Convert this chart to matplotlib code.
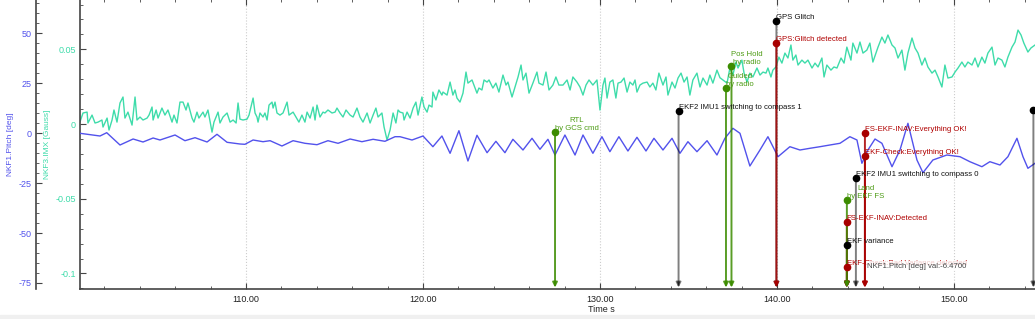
import matplotlib.pyplot as plt
from matplotlib.ticker import MultipleLocator, FormatStrFormatter, FuncFormatter
from matplotlib.patches import Rectangle

plt.rcParams['font.family'] = ['Liberation Sans', 'DejaVu Sans']

# NKF1.Pitch [deg]
pitch_t = [100.62, 101.75, 102.13, 102.88, 103.62, 104.18, 104.75, 105.14, 105.99, 106.55,
           107.12, 107.80, 108.36, 108.93, 109.66, 109.94, 110.40, 110.96, 111.36, 112.03,
           112.66, 113.33, 114.01, 114.63, 115.20, 115.88, 116.55, 117.18, 117.85, 118.42,
           118.70, 119.38, 120.00, 120.56, 121.07, 121.53, 122.03, 122.54, 123.05, 123.62,
           124.12, 124.63, 125.08, 125.65, 126.16, 126.61, 127.06, 127.46, 128.02, 128.59,
           129.04, 129.60, 130.11, 130.56, 131.07, 131.58, 132.09, 132.60, 133.05, 133.56,
           134.07, 134.52, 134.97, 135.48, 136.05, 136.61, 137.06, 137.51, 137.91, 138.47,
           139.04, 139.49, 140.06, 140.73, 141.30, 141.86, 142.43, 142.99, 143.56, 144.12,
           144.52, 144.80, 145.14, 145.54, 145.93, 146.50, 146.95, 147.40, 147.91, 148.25,
           148.81, 149.60, 150.34, 150.90, 151.58, 152.03, 152.60, 153.05, 153.56, 153.90,
           154.18, 154.58]
pitch_v = [-0.15, -1.5, 0.15, -6.0, -3.0, -4.5, -2.5, -3.5, -1.0, -3.85,
           -2.35, -4.5, -0.65, -4.65, -5.5, -5.65, -3.5, -4.35, -3.85, -6.5,
           -3.85, -5.15, -5.85, -3.85, -5.15, -3.0, -4.35, -3.15, -4.15, -1.85,
           -1.85, -3.5, -1.5, -6.85, -1.5, -10.15, 1.15, -14.0, -1.15, -9.85,
           -4.15, -9.85, -3.15, -8.5, -2.65, -8.15, -3.15, -11.0, -1.0, -11.0,
           -1.0, -10.15, -1.85, -9.35, -1.85, -9.0, -2.15, -9.0, -2.65, -8.5,
           -2.65, -10.15, -4.35, -9.35, -3.85, -11.0, -2.65, 2.35, -0.15, -16.5,
           -8.5, -1.85, -11.85, -6.85, -8.5, -7.65, -6.85, -6.0, -5.15, -1.85,
           -3.5, -15.15, -8.5, -3.0, -5.15, -16.85, -8.5, 4.85, -13.5, -19.85,
           -13.5, -11.0, -11.85, -14.35, -16.85, -14.35, -16.0, -11.85, -2.65, -11.85,
           -17.65, -15.15]

# NKF3.IMX [Gauss]
imx_t = [100.62, 100.79, 101.02, 101.07, 101.30, 101.47, 101.64, 101.86, 101.92, 102.15,
         102.26, 102.43, 102.54, 102.71, 102.88, 103.05, 103.16, 103.33, 103.56, 103.73,
         103.84, 104.01, 104.18, 104.41, 104.52, 104.69, 104.75, 104.92, 105.03, 105.25,
         105.42, 105.59, 105.82, 105.93, 106.10, 106.27, 106.44, 106.61, 106.72, 106.95,
         107.06, 107.23, 107.34, 107.57, 107.68, 107.85, 108.08, 108.19, 108.42, 108.53,
         108.70, 108.93, 109.10, 109.27, 109.44, 109.55, 109.66,
         109.83, 110.06, 110.17, 110.40, 110.51, 110.62, 110.68, 110.79, 110.96, 111.07,
         111.19, 111.30, 111.47, 111.53, 111.64, 111.75, 111.92, 112.09, 112.32, 112.43,
         112.66, 112.82, 112.99, 113.16, 113.33, 113.45, 113.62, 113.79, 113.90, 114.01,
         114.18, 114.35, 114.46, 114.63, 114.86, 115.03, 115.14, 115.31, 115.48, 115.65,
         115.88, 116.05, 116.27, 116.44, 116.61, 116.84, 117.01, 117.18, 117.34, 117.46,
         117.68, 117.80, 117.97, 118.14, 118.31, 118.47, 118.59, 118.70,
         118.87, 118.93, 119.10, 119.27, 119.44, 119.60, 119.72, 119.94, 120.06, 120.23,
         120.34, 120.51, 120.56, 120.73, 120.90, 121.07, 121.13, 121.36, 121.53, 121.69,
         121.81, 121.92, 122.09, 122.26, 122.43, 122.54, 122.77, 122.88, 123.05, 123.16,
         123.33, 123.45, 123.62, 123.73, 123.95, 124.12, 124.29, 124.52, 124.69, 124.80,
         125.03, 125.20, 125.37, 125.54, 125.65, 125.82, 125.99, 126.21, 126.44, 126.55,
         126.78, 126.95, 127.12, 127.34, 127.51, 127.68,
         127.91, 128.14, 128.31, 128.47, 128.70, 128.87, 129.04, 129.21, 129.38, 129.60,
         129.83, 130.00, 130.17, 130.28, 130.40, 130.56, 130.73, 130.90, 131.02, 131.19,
         131.36, 131.53, 131.69, 131.86, 131.98, 132.09, 132.26, 132.43, 132.66, 132.82,
         132.99, 133.16, 133.33, 133.56, 133.73, 133.84, 134.07, 134.24, 134.41, 134.58,
         134.75, 134.92, 135.08, 135.25, 135.48, 135.65, 135.82, 136.05, 136.21, 136.38,
         136.61, 136.78,
         136.95, 137.18, 137.34, 137.51, 137.68, 137.80, 138.02, 138.14, 138.31, 138.47,
         138.64, 138.87, 139.04, 139.21, 139.38, 139.49, 139.66, 139.77, 139.94, 140.11,
         140.28, 140.45, 140.62, 140.79, 140.90, 141.07, 141.19, 141.41, 141.58, 141.75,
         141.98, 142.15, 142.32, 142.54, 142.66, 142.82, 143.05, 143.22, 143.39, 143.62,
         143.79, 143.95, 144.18, 144.29, 144.52, 144.69, 144.86, 145.08, 145.25, 145.42,
         145.65,
         145.71, 145.93, 146.10, 146.27, 146.50, 146.67, 146.84, 147.06, 147.23, 147.40,
         147.63, 147.80, 147.97, 148.19, 148.36, 148.53, 148.76, 148.93, 149.10, 149.32,
         149.49, 149.66, 149.89, 150.06, 150.23, 150.45, 150.62, 150.79, 151.02, 151.19,
         151.36, 151.58, 151.75, 151.92, 152.15, 152.32, 152.49, 152.71, 152.88, 153.05,
         153.28, 153.45, 153.62, 153.79, 153.95, 154.18, 154.35, 154.58]
imx_v = [0.0015, 0.0074, 0.0080, 0.0007, 0.0060, 0.0007, 0.0013, 0.0027, -0.0020, 0.0040,
         -0.0040, 0.0027, 0.0094, 0.0013, 0.0141, 0.0181, 0.0040, 0.0080, -0.0007, 0.0181,
         0.0027, 0.0047, 0.0027, 0.0040, 0.0060, 0.0114, 0.0027, 0.0094, 0.0040, 0.0107,
         0.0060, 0.0094, 0.0013, 0.0060, 0.0007, 0.0147, 0.0147, 0.0094, 0.0141, 0.0040,
         0.0013, 0.0080, 0.0040, 0.0080, 0.0047, 0.0094, -0.0054, 0.0013, 0.0080, 0.0007,
         0.0047, 0.0074, 0.0013, 0.0027, 0.0007, 0.0141, 0.0033,
         0.0027, 0.0033, 0.0060, 0.0174, 0.0074, 0.0047, 0.0013, 0.0074, 0.0047, 0.0074,
         0.0027, 0.0127, 0.0147, 0.0107, 0.0147, 0.0074, 0.0060, 0.0074, 0.0147, 0.0060,
         0.0080, 0.0047, 0.0013, 0.0060, 0.0013, 0.0080, 0.0040, 0.0114, 0.0027, 0.0127,
         0.0047, 0.0080, 0.0074, 0.0094, 0.0074, 0.0080, 0.0107, 0.0074, 0.0047, 0.0094,
         0.0060, 0.0047, 0.0107, 0.0047, 0.0013, 0.0074, 0.0007, 0.0060, 0.0107, 0.0047,
         0.0074, -0.0020, -0.0107, -0.0040, 0.0074, 0.0007, 0.0094, 0.0080,
         0.0074, 0.0027, 0.0080, 0.0040, 0.0107, 0.0147, 0.0060, 0.0181, 0.0114, 0.0080,
         0.0127, 0.0114, 0.0214, 0.0161, 0.0228, 0.0194, 0.0214, 0.0194, 0.0281, 0.0194,
         0.0228, 0.0174, 0.0147, 0.0207, 0.0348, 0.0274, 0.0295, 0.0261, 0.0207, 0.0241,
         0.0228, 0.0295, 0.0281, 0.0295, 0.0241, 0.0274, 0.0214, 0.0328, 0.0261, 0.0281,
         0.0181, 0.0248, 0.0315, 0.0395, 0.0295, 0.0341, 0.0207, 0.0274, 0.0348, 0.0274,
         0.0261, 0.0348, 0.0228, 0.0261, 0.0315, 0.0261,
         0.0261, 0.0295, 0.0228, 0.0315, 0.0281, 0.0248, 0.0194, 0.0261, 0.0295, 0.0261,
         0.0295, 0.0094, 0.0261, 0.0308, 0.0174, 0.0281, 0.0295, 0.0174, 0.0274, 0.0281,
         0.0308, 0.0214, 0.0281, 0.0261, 0.0295, 0.0214, 0.0261, 0.0274, 0.0281, 0.0248,
         0.0274, 0.0228, 0.0341, 0.0261, 0.0315, 0.0194, 0.0281, 0.0241, 0.0308, 0.0341,
         0.0281, 0.0315, 0.0194, 0.0295, 0.0341, 0.0248, 0.0308, 0.0261, 0.0328, 0.0274,
         0.0361, 0.0310,
         0.0295, 0.0274, 0.0375, 0.0328, 0.0415, 0.0375, 0.0428, 0.0341, 0.0281, 0.0341,
         0.0315, 0.0375, 0.0328, 0.0348, 0.0341, 0.0375, 0.0315, 0.0361, 0.0382, 0.0448,
         0.0408, 0.0475, 0.0442, 0.0529, 0.0428, 0.0462, 0.0395, 0.0428, 0.0408, 0.0428,
         0.0375, 0.0408, 0.0382, 0.0442, 0.0315, 0.0395, 0.0361, 0.0382, 0.0375, 0.0442,
         0.0408, 0.0515, 0.0428, 0.0542, 0.0475, 0.0549, 0.0475, 0.0495, 0.0542, 0.0415,
         0.0495,
         0.0515, 0.0582, 0.0542, 0.0596, 0.0529, 0.0509, 0.0442, 0.0495, 0.0361, 0.0475,
         0.0576, 0.0509, 0.0475, 0.0395, 0.0442, 0.0382, 0.0341, 0.0361, 0.0315, 0.0248,
         0.0395, 0.0308, 0.0315, 0.0348, 0.0375, 0.0415, 0.0382, 0.0415, 0.0395, 0.0442,
         0.0382, 0.0448, 0.0408, 0.0475, 0.0515, 0.0395, 0.0442, 0.0428, 0.0382, 0.0448,
         0.0515, 0.0549, 0.0629, 0.0596, 0.0542, 0.0482, 0.0509, 0.0529]

# events (time s, kind, text)
event_t = [127.46, 134.44, 137.12, 137.43, 139.97, 139.97, 143.95, 143.95,
           143.95, 143.95, 144.46, 144.97, 144.97, 154.49]
event_kind = ['mode', 'msg', 'mode', 'mode', 'msg', 'err', 'err', 'msg',
              'err', 'mode', 'msg', 'err', 'err', 'msg']
event_text = ['RTL\nby GCS cmd', 'EKF2 IMU1 switching to compass 1',
              'Guided\nby radio', 'Pos Hold\nby radio', 'GPS Glitch',
              'GPS:Glitch detected', 'EKF-Check:Bad Variance detected',
              'EKF variance', 'FS-EKF-INAV:Detected', 'Land\nby EKF FS',
              'EKF2 IMU1 switching to compass 0', 'EKF-Check:Everything OK!',
              'FS-EKF-INAV:Everything OK!', '']
# staggered heights of the event markers (axes fraction)
marker_h = [0.541, 0.614, 0.693, 0.769, 0.924, 0.848, 0.076, 0.152,
            0.231, 0.307, 0.383, 0.459, 0.538, 0.617]

BLUE = '#5252ec'
GREEN = '#3edcaa'
line_col = {'mode': '#3c8c00', 'msg': '#000000', 'err': '#a80000'}
line_alpha = {'mode': 0.85, 'msg': 0.5, 'err': 0.85}
text_col = {'mode': '#4e9c16', 'msg': '#111111', 'err': '#b00000'}

fig = plt.figure(figsize=(10.35, 3.19), dpi=100)
fig.patches.append(Rectangle((0, 0), 1, 4 / 319, transform=fig.transFigure,
                             color='#f0f0f0', zorder=0))
ax = fig.add_axes([80 / 1035, 30 / 319, 955 / 1035, 290 / 319])
ax2 = ax.twinx()

ax.plot(imx_t, imx_v, color=GREEN, lw=1.0)
ax2.plot(pitch_t, pitch_v, color=BLUE, lw=1.0)

ax.set_xlim(100.62, 154.58)
ax.set_ylim(-0.1104, 0.0837)
ax2.set_ylim(-78, 67)

ax.xaxis.set_major_locator(MultipleLocator(10))
ax.xaxis.set_minor_locator(MultipleLocator(2))
ax.xaxis.set_major_formatter(FormatStrFormatter('%.2f'))
ax.yaxis.set_major_locator(MultipleLocator(0.05))
ax.yaxis.set_minor_locator(MultipleLocator(0.01))
ax.yaxis.set_major_formatter(FuncFormatter(lambda v, p: '%g' % round(v, 3)))
ax2.yaxis.set_major_locator(MultipleLocator(25))
ax2.yaxis.set_minor_locator(MultipleLocator(5))
ax2.yaxis.set_major_formatter(FuncFormatter(lambda v, p: '%g' % v))

ax.grid(axis='x', which='major', color='#cccccc', linestyle=':', lw=0.8)

for sp in ['right']:
    ax.spines[sp].set_visible(False)
    ax2.spines[sp].set_visible(False)
ax2.spines['top'].set_visible(False)
ax2.spines['bottom'].set_visible(False)
ax2.spines['left'].set_visible(True)
ax2.spines['left'].set_position(('axes', -44 / 955))
ax2.yaxis.set_ticks_position('left')
ax2.yaxis.set_label_position('left')
for sp in ax.spines.values():
    sp.set_color('#444444')
    sp.set_linewidth(1.2)
ax2.spines['left'].set_color('#444444')
ax2.spines['left'].set_linewidth(1.2)

ax.tick_params(axis='x', which='both', direction='in', top=True, colors='#444444',
               labelcolor='#222222', labelsize=6.5, pad=4)
ax.tick_params(axis='x', which='major', length=4)
ax.tick_params(axis='x', which='minor', length=2.5)
ax.tick_params(axis='y', which='both', direction='in', colors='#444444',
               labelcolor=GREEN, labelsize=6.5, pad=3)
ax.tick_params(axis='y', which='major', length=4)
ax.tick_params(axis='y', which='minor', length=2.5)
ax2.tick_params(axis='y', which='both', direction='in', colors='#444444',
                labelcolor=BLUE, labelsize=6.5, pad=3)
ax2.tick_params(axis='y', which='major', length=4)
ax2.tick_params(axis='y', which='minor', length=2.5)

ax.set_xlabel('Time s', fontsize=6.5, color='#222222')
ax.xaxis.set_label_coords((601 - 80) / 955, -0.055)
ax.set_ylabel('NKF3.IMX [Gauss]', fontsize=6, color=GREEN)
ax.yaxis.set_label_coords((51 - 80) / 955, 0.5)
ax2.set_ylabel('NKF1.Pitch [deg]', fontsize=6, color=BLUE)
ax2.yaxis.set_label_coords((14 - 80) / 955, 0.5)

trans = ax2.get_xaxis_transform()
for t, kind, txt, h in zip(event_t, event_kind, event_text, marker_h):
    c = line_col[kind]
    ax2.annotate('', xy=(t, 0.005), xycoords=trans, xytext=(t, h), textcoords=trans,
                 arrowprops=dict(arrowstyle='-|>', color=c, alpha=line_alpha[kind],
                                 lw=1.4, mutation_scale=7, shrinkA=0, shrinkB=0),
                 zorder=4)
    ax2.plot([t], [h], 'o', transform=trans, color=c, ms=4.5, zorder=5, clip_on=False)
    ax2.annotate(txt, xy=(t, h), xycoords=trans, xytext=(0, 0), textcoords='offset points',
                 ha='left', va='bottom', multialignment='center', fontsize=5.6,
                 color=text_col[kind], zorder=6)

ax2.text((867 - 80) / 955, (289 - 266) / 290, 'NKF1.Pitch [deg] val:-6.4700',
         transform=ax2.transAxes, fontsize=5.6, color='#444444', va='center', ha='left',
         zorder=7, bbox=dict(boxstyle='square,pad=0.15', fc='white', ec='none', alpha=0.8))

ax2.set_ylim(-78, 67)
ax.set_xlim(100.62, 154.58)

fig.savefig('out.png', dpi=100)
